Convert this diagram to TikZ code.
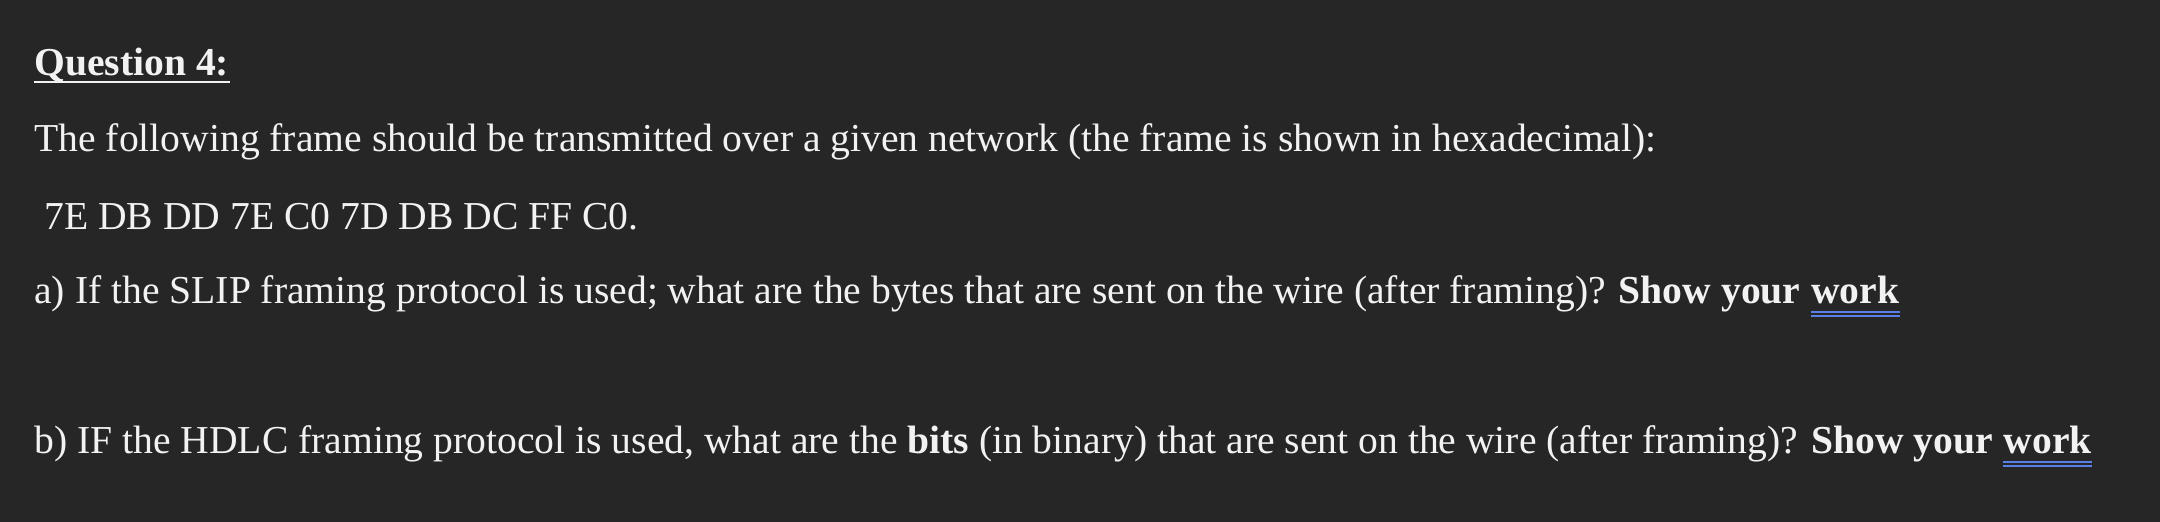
\documentclass[tikz,border=0pt]{standalone}
\usepackage{fontspec}
\setmainfont{Liberation Serif}
\definecolor{bg}{HTML}{262626}
\definecolor{fg}{HTML}{F2F2F2}
\definecolor{ul}{HTML}{5B7FE8}
\begin{document}
\begin{tikzpicture}[x=1pt,y=1pt,
  txt/.style={anchor=base west,inner sep=0pt,text=fg,font=\fontsize{19.8}{24}\selectfont}]
\fill[bg] (0,0) rectangle (1080,-261);
\useasboundingbox (0,0) rectangle (1080,-261);
\node[txt] (q) at (17,-38) {\textbf{Question 4:}};
\draw[fg,line width=0.9pt] (q.base west)++(0,-3) -- ([yshift=-3pt]q.base east);
\node[txt] (l1) at (17,-76) {The following frame should be transmitted over a given network (the frame is shown in hexadecimal):};
\node[txt] (l2) at (22,-115) {7E DB DD 7E C0 7D DB DC FF C0.};
\node[txt] (a) at (17,-152) {a) If the SLIP framing protocol is used; what are the bytes that are sent on the wire (after framing)? \textbf{Show your}};
\node[txt,anchor=base west] (aw) at ([xshift=5pt]a.base east) {\textbf{work}};
\draw[ul,line width=0.8pt] ([yshift=-4pt]aw.base west) -- ([yshift=-4pt]aw.base east);
\draw[ul,line width=0.8pt] ([yshift=-6pt]aw.base west) -- ([yshift=-6pt]aw.base east);
\node[txt] (b) at (17,-227) {b) IF the HDLC framing protocol is used, what are the \textbf{bits} (in binary) that are sent on the wire (after framing)? \textbf{Show your}};
\node[txt,anchor=base west] (bw) at ([xshift=5pt]b.base east) {\textbf{work}};
\draw[ul,line width=0.8pt] ([yshift=-4pt]bw.base west) -- ([yshift=-4pt]bw.base east);
\draw[ul,line width=0.8pt] ([yshift=-6pt]bw.base west) -- ([yshift=-6pt]bw.base east);
\end{tikzpicture}
\end{document}
